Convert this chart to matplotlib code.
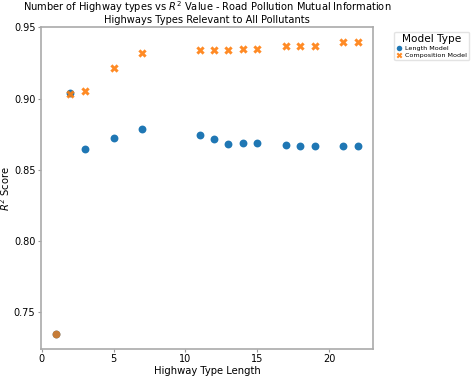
import matplotlib
matplotlib.use('Agg')
import matplotlib.pyplot as plt

# ── data ──
lengths = [1, 2, 3, 5, 7, 11, 12, 13, 14, 15, 17, 18, 19, 21, 22]
length_model = [0.7346, 0.904, 0.8645, 0.8724, 0.8787, 0.8743, 0.8717, 0.8684,
                0.8687, 0.8687, 0.8677, 0.867, 0.867, 0.867, 0.867]
composition_model = [0.7346, 0.903, 0.9055, 0.9215, 0.932, 0.934, 0.934, 0.934,
                     0.935, 0.935, 0.937, 0.937, 0.937, 0.940, 0.940]

blue = '#1f77b4'
orange = '#ff7f0e'

fig = plt.figure(figsize=(4.74, 3.76), dpi=100)
ax = fig.add_axes([0.0865, 0.072, 0.70, 0.856])

ax.scatter(lengths, length_model, s=32, color=blue, marker='o', label='Length Model', linewidths=0)
ax.scatter(lengths[1:], composition_model[1:], s=36, color=orange, marker='X',
           label='Composition Model', linewidths=0, alpha=0.9)
# at length 1 both models coincide; the overlap shows as a blended dot
ax.scatter(lengths[:1], composition_model[:1], s=32, color=orange, marker='o',
           linewidths=0, alpha=0.75)

ax.set_xlabel('Highway Type Length', fontsize=7.2, labelpad=1)
ax.set_ylabel('$R^2$ Score', fontsize=7.2, labelpad=1)
ax.set_title('Number of Highway types vs $R^2$ Value - Road Pollution Mutual Information\n'
             'Highways Types Relevant to All Pollutants', fontsize=7.1, pad=3, linespacing=1.05)
ax.set_xticks([0, 5, 10, 15, 20])
ax.set_yticks([0.75, 0.80, 0.85, 0.90, 0.95])
ax.tick_params(labelsize=7, length=2.5, color='#999999', pad=1.5)
for sp in ax.spines.values():
    sp.set_color('#aaaaaa')
    sp.set_linewidth(1.2)

leg = ax.legend(title='Model Type', loc='upper left', bbox_to_anchor=(1.055, 0.995),
                fontsize=4.6, title_fontsize=7.6, frameon=True, handletextpad=0.4,
                borderpad=0.3, labelspacing=0.25, handlelength=1.0, markerscale=0.7)
leg.get_frame().set_edgecolor('#dddddd')

fig.savefig('out.png', dpi=100)
